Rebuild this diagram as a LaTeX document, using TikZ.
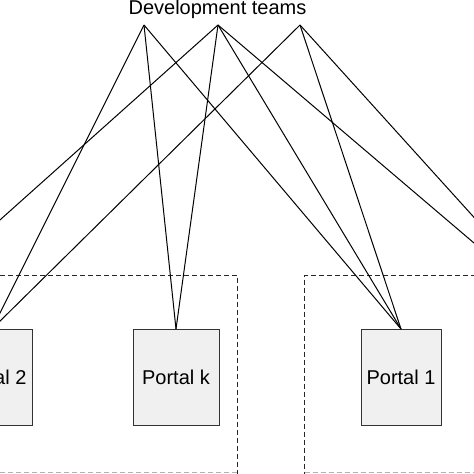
\documentclass[tikz,border=0pt]{standalone}
\usepackage{fontspec}
\setmainfont{Liberation Sans}
\begin{document}
\begin{tikzpicture}[x=1pt,y=-1pt,
  portal/.style={draw=black!80,fill=black!6,line width=1pt,minimum height=96pt,inner sep=0pt,font=\fontsize{20}{24}\selectfont},
  link/.style={line width=1pt,black},
  grp/.style={line width=1pt,dash pattern=on 5pt off 3pt,black!85},
  grpb/.style={line width=1pt,dash pattern=on 5pt off 3pt,black!30}]
\useasboundingbox (0,0) rectangle (474,474);
\clip (0,0) rectangle (474,474);
\fill[white] (0,0) rectangle (474,474);
% group boxes
\draw[grp] (-200,275) -- (237.5,275) -- (237.5,474);
\draw[grpb] (-200,472.5) -- (237.5,472.5);
\draw[grp] (700,275) -- (304.5,275) -- (304.5,474);
\draw[grpb] (304.5,472.5) -- (700,472.5);
% title and teams
\node[anchor=base,inner sep=0pt,font=\fontsize{20}{24}\selectfont] (title) at (217.5,14.5) {Development teams};
\coordinate (t1) at (144,25);
\coordinate (t2) at (218,25);
\coordinate (t3) at (300,25);
% portals
\node[portal,minimum width=80pt,anchor=north] (p2) at (-8,329) {Portal 2};
\node[portal,minimum width=86pt,anchor=north] (pk) at (176,329) {Portal k};
\node[portal,minimum width=80pt,anchor=north] (p1) at (401,329) {Portal 1};
\coordinate (offl) at (-122,329);
\coordinate (offr) at (575,329);
% links
\draw[link] (t1) -- (p2.north);
\draw[link] (t1) -- (pk.north);
\draw[link] (t1) -- (p1.north);
\draw[link] (t2) -- (offl);
\draw[link] (t2) -- (pk.north);
\draw[link] (t2) -- (p1.north);
\draw[link] (t2) -- (offr);
\draw[link] (t3) -- (p2.north);
\draw[link] (t3) -- (p1.north);
\draw[link] (t3) -- (offr);
\end{tikzpicture}
\end{document}
